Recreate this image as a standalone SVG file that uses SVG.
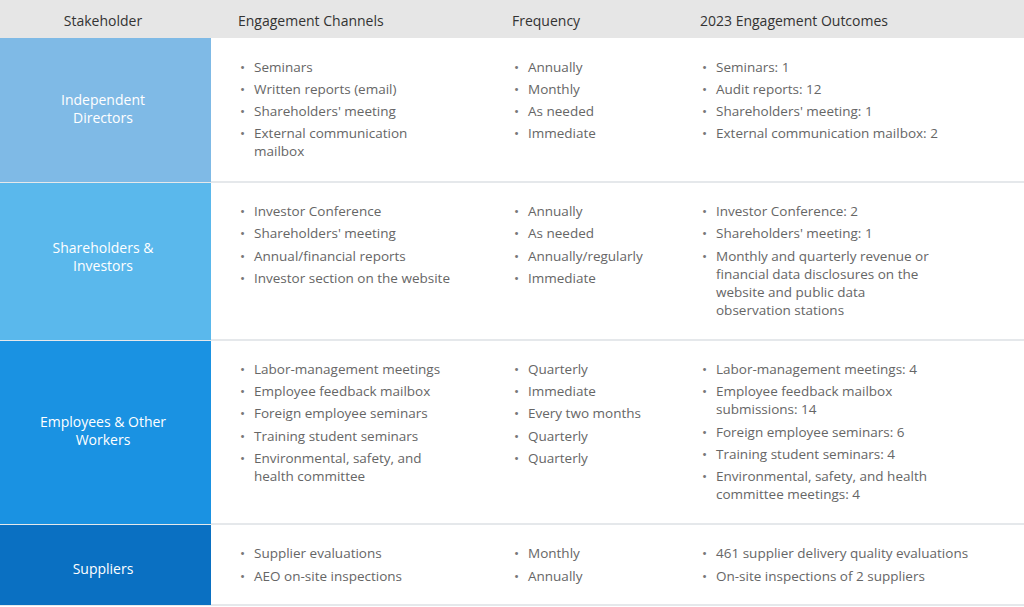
<svg xmlns="http://www.w3.org/2000/svg" width="1024" height="607" viewBox="0 0 1024 607">
<style>
text{font-family:"Open Sans","Liberation Sans",sans-serif;font-size:13.5px;fill:#666}
.h{fill:#333;font-size:14px}
.s{fill:#fff;font-size:14px;text-anchor:middle}
.b{fill:#777}
</style>
<rect width="1024" height="607" fill="#fff"/>
<g id="header"><rect x="0" y="0" width="1024" height="38" fill="#e6e6e6"/>
<text class="h" x="103" y="26" text-anchor="middle">Stakeholder</text>
<text class="h" x="238" y="26">Engagement Channels</text>
<text class="h" x="512" y="26">Frequency</text>
<text class="h" x="700" y="26">2023 Engagement Outcomes</text></g>
<g id="connectors" stroke="#dde1e5" stroke-width="1.5">
<line x1="0" y1="182" x2="1024" y2="182"/><line x1="0" y1="340" x2="1024" y2="340"/><line x1="0" y1="524" x2="1024" y2="524"/><line x1="0" y1="605" x2="1024" y2="605"/></g>
<g id="row1"><rect x="0" y="38" width="211" height="144" fill="#7fbae6"/>
<text class="s" x="103" y="105">Independent</text><text class="s" x="103" y="123">Directors</text>
<text x="240" y="72"><tspan class="b">•</tspan><tspan x="254">Seminars</tspan></text>
<text x="240" y="94"><tspan class="b">•</tspan><tspan x="254">Written reports (email)</tspan></text>
<text x="240" y="116"><tspan class="b">•</tspan><tspan x="254">Shareholders' meeting</tspan></text>
<text x="240" y="138"><tspan class="b">•</tspan><tspan x="254">External communication</tspan></text>
<text x="254" y="156">mailbox</text>
<text x="514" y="72"><tspan class="b">•</tspan><tspan x="528">Annually</tspan></text>
<text x="514" y="94"><tspan class="b">•</tspan><tspan x="528">Monthly</tspan></text>
<text x="514" y="116"><tspan class="b">•</tspan><tspan x="528">As needed</tspan></text>
<text x="514" y="138"><tspan class="b">•</tspan><tspan x="528">Immediate</tspan></text>
<text x="702" y="72"><tspan class="b">•</tspan><tspan x="716">Seminars: 1</tspan></text>
<text x="702" y="94"><tspan class="b">•</tspan><tspan x="716">Audit reports: 12</tspan></text>
<text x="702" y="116"><tspan class="b">•</tspan><tspan x="716">Shareholders' meeting: 1</tspan></text>
<text x="702" y="138"><tspan class="b">•</tspan><tspan x="716">External communication mailbox: 2</tspan></text></g>
<g id="row2"><rect x="0" y="183" width="211" height="157" fill="#5ab8ec"/>
<text class="s" x="103" y="253">Shareholders &amp;</text><text class="s" x="103" y="271">Investors</text>
<text x="240" y="216"><tspan class="b">•</tspan><tspan x="254">Investor Conference</tspan></text>
<text x="240" y="238"><tspan class="b">•</tspan><tspan x="254">Shareholders' meeting</tspan></text>
<text x="240" y="261"><tspan class="b">•</tspan><tspan x="254">Annual/financial reports</tspan></text>
<text x="240" y="283"><tspan class="b">•</tspan><tspan x="254">Investor section on the website</tspan></text>
<text x="514" y="216"><tspan class="b">•</tspan><tspan x="528">Annually</tspan></text>
<text x="514" y="238"><tspan class="b">•</tspan><tspan x="528">As needed</tspan></text>
<text x="514" y="261"><tspan class="b">•</tspan><tspan x="528">Annually/regularly</tspan></text>
<text x="514" y="283"><tspan class="b">•</tspan><tspan x="528">Immediate</tspan></text>
<text x="702" y="216"><tspan class="b">•</tspan><tspan x="716">Investor Conference: 2</tspan></text>
<text x="702" y="238"><tspan class="b">•</tspan><tspan x="716">Shareholders' meeting: 1</tspan></text>
<text x="702" y="261"><tspan class="b">•</tspan><tspan x="716">Monthly and quarterly revenue or</tspan></text>
<text x="716" y="279">financial data disclosures on the</text>
<text x="716" y="297">website and public data</text>
<text x="716" y="315">observation stations</text></g>
<g id="row3"><rect x="0" y="341" width="211" height="183" fill="#1a92e2"/>
<text class="s" x="103" y="427">Employees &amp; Other</text><text class="s" x="103" y="445">Workers</text>
<text x="240" y="374"><tspan class="b">•</tspan><tspan x="254">Labor-management meetings</tspan></text>
<text x="240" y="396"><tspan class="b">•</tspan><tspan x="254">Employee feedback mailbox</tspan></text>
<text x="240" y="418"><tspan class="b">•</tspan><tspan x="254">Foreign employee seminars</tspan></text>
<text x="240" y="441"><tspan class="b">•</tspan><tspan x="254">Training student seminars</tspan></text>
<text x="240" y="463"><tspan class="b">•</tspan><tspan x="254">Environmental, safety, and</tspan></text>
<text x="254" y="481">health committee</text>
<text x="514" y="374"><tspan class="b">•</tspan><tspan x="528">Quarterly</tspan></text>
<text x="514" y="396"><tspan class="b">•</tspan><tspan x="528">Immediate</tspan></text>
<text x="514" y="418"><tspan class="b">•</tspan><tspan x="528">Every two months</tspan></text>
<text x="514" y="441"><tspan class="b">•</tspan><tspan x="528">Quarterly</tspan></text>
<text x="514" y="463"><tspan class="b">•</tspan><tspan x="528">Quarterly</tspan></text>
<text x="702" y="374"><tspan class="b">•</tspan><tspan x="716">Labor-management meetings: 4</tspan></text>
<text x="702" y="396"><tspan class="b">•</tspan><tspan x="716">Employee feedback mailbox</tspan></text>
<text x="716" y="414">submissions: 14</text>
<text x="702" y="437"><tspan class="b">•</tspan><tspan x="716">Foreign employee seminars: 6</tspan></text>
<text x="702" y="459"><tspan class="b">•</tspan><tspan x="716">Training student seminars: 4</tspan></text>
<text x="702" y="481"><tspan class="b">•</tspan><tspan x="716">Environmental, safety, and health</tspan></text>
<text x="716" y="499">committee meetings: 4</text></g>
<g id="row4"><rect x="0" y="525" width="211" height="80" fill="#0a70c2"/>
<text class="s" x="103" y="574">Suppliers</text>
<text x="240" y="558"><tspan class="b">•</tspan><tspan x="254">Supplier evaluations</tspan></text>
<text x="240" y="581"><tspan class="b">•</tspan><tspan x="254">AEO on-site inspections</tspan></text>
<text x="514" y="558"><tspan class="b">•</tspan><tspan x="528">Monthly</tspan></text>
<text x="514" y="581"><tspan class="b">•</tspan><tspan x="528">Annually</tspan></text>
<text x="702" y="558"><tspan class="b">•</tspan><tspan x="716">461 supplier delivery quality evaluations</tspan></text>
<text x="702" y="581"><tspan class="b">•</tspan><tspan x="716">On-site inspections of 2 suppliers</tspan></text></g>
</svg>
